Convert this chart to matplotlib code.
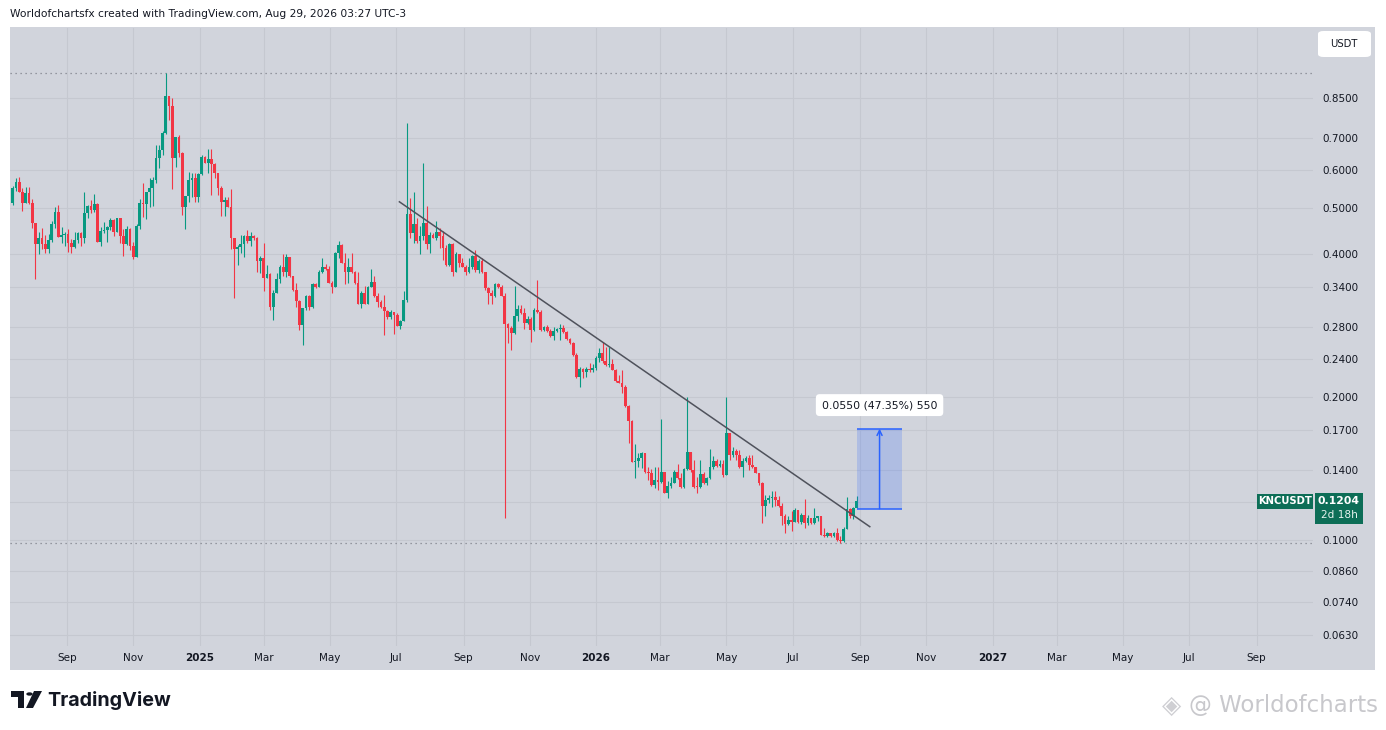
import matplotlib
matplotlib.use("Agg")
import matplotlib.pyplot as plt
import matplotlib.dates as mdates
from matplotlib.patches import Rectangle, FancyBboxPatch, Polygon, Circle
from matplotlib.ticker import NullLocator
import numpy as np
import pandas as pd

W, H = 1386, 730

# ---- data (3D candles KNCUSDT) ----
first_open = 0.510
close = [
    0.549, 0.567, 0.540, 0.512, 0.536, 0.510, 0.463, 0.418, 0.431, 0.418,
    0.408, 0.427, 0.462, 0.489, 0.434, 0.438, 0.439, 0.422, 0.412, 0.427,
    0.441, 0.432, 0.486, 0.504, 0.494, 0.509, 0.424, 0.447, 0.448, 0.454,
    0.470, 0.445, 0.475, 0.436, 0.419, 0.450, 0.414, 0.394, 0.457, 0.510,
    0.508, 0.538, 0.549, 0.571, 0.635, 0.661, 0.716, 0.858, 0.819, 0.637,
    0.703, 0.650, 0.501, 0.529, 0.571, 0.576, 0.527, 0.588, 0.638, 0.621,
    0.632, 0.617, 0.590, 0.550, 0.514, 0.519, 0.502, 0.431, 0.408, 0.412,
    0.419, 0.436, 0.425, 0.436, 0.431, 0.386, 0.392, 0.356, 0.362, 0.309,
    0.331, 0.354, 0.374, 0.366, 0.393, 0.358, 0.335, 0.318, 0.283, 0.307,
    0.326, 0.309, 0.345, 0.341, 0.366, 0.374, 0.371, 0.347, 0.341, 0.402,
    0.417, 0.383, 0.366, 0.374, 0.365, 0.346, 0.314, 0.331, 0.314, 0.341,
    0.349, 0.325, 0.317, 0.309, 0.303, 0.294, 0.302, 0.297, 0.282, 0.289,
    0.320, 0.485, 0.441, 0.462, 0.426, 0.436, 0.463, 0.418, 0.438, 0.432,
    0.443, 0.436, 0.410, 0.378, 0.419, 0.366, 0.399, 0.382, 0.375, 0.366,
    0.374, 0.395, 0.369, 0.385, 0.366, 0.338, 0.331, 0.325, 0.345, 0.340,
    0.326, 0.285, 0.2785, 0.2727, 0.2957, 0.3053, 0.300, 0.286, 0.292, 0.276,
    0.305, 0.302, 0.276, 0.280, 0.275, 0.268, 0.275, 0.277, 0.2785, 0.273,
    0.264, 0.259, 0.2448, 0.2197, 0.2283, 0.2257, 0.2283, 0.2276, 0.2295, 0.2409,
    0.2468, 0.2381, 0.2332, 0.2343, 0.2276, 0.2162, 0.2141, 0.2100, 0.1912, 0.1781,
    0.1460, 0.1467, 0.1488, 0.1525, 0.1391, 0.1384, 0.1304, 0.1336, 0.1325, 0.1386,
    0.1256, 0.1300, 0.1319, 0.1391, 0.1347, 0.1290, 0.1407, 0.1532, 0.1402, 0.1293,
    0.1290, 0.1375, 0.1315, 0.1347, 0.1421, 0.1467, 0.1430, 0.1444, 0.1369, 0.1675,
    0.1508, 0.1538, 0.1508, 0.1421, 0.1467, 0.1488, 0.1437, 0.1421, 0.1384, 0.1319,
    0.1180, 0.1213, 0.1221, 0.1230, 0.1213, 0.1180, 0.1124, 0.1078, 0.1101, 0.1089,
    0.1155, 0.1089, 0.1128, 0.1083, 0.1113, 0.1083, 0.1110, 0.1119, 0.1024, 0.1016,
    0.1032, 0.1016, 0.1032, 0.0999, 0.0994, 0.1053, 0.1161, 0.1124, 0.1165, 0.1204,
]
high = [
    0.555, 0.576, 0.579, 0.549, 0.552, 0.552, 0.520, 0.463, 0.445, 0.452,
    0.438, 0.440, 0.468, 0.501, 0.505, 0.454, 0.443, 0.450, 0.429, 0.443,
    0.443, 0.445, 0.538, 0.506, 0.519, 0.533, 0.510, 0.456, 0.467, 0.458,
    0.475, 0.472, 0.476, 0.476, 0.450, 0.457, 0.452, 0.424, 0.461, 0.520,
    0.562, 0.540, 0.577, 0.579, 0.677, 0.677, 0.724, 0.959, 0.858, 0.849,
    0.703, 0.711, 0.653, 0.529, 0.595, 0.590, 0.590, 0.592, 0.645, 0.642,
    0.664, 0.663, 0.621, 0.592, 0.555, 0.527, 0.527, 0.546, 0.431, 0.417,
    0.438, 0.438, 0.448, 0.445, 0.437, 0.434, 0.395, 0.422, 0.379, 0.364,
    0.335, 0.364, 0.379, 0.399, 0.399, 0.394, 0.359, 0.346, 0.320, 0.308,
    0.327, 0.328, 0.346, 0.347, 0.369, 0.392, 0.380, 0.377, 0.351, 0.404,
    0.426, 0.419, 0.402, 0.391, 0.402, 0.368, 0.366, 0.333, 0.342, 0.342,
    0.371, 0.358, 0.330, 0.320, 0.327, 0.304, 0.304, 0.302, 0.300, 0.290,
    0.333, 0.752, 0.523, 0.540, 0.475, 0.457, 0.621, 0.504, 0.445, 0.441,
    0.468, 0.452, 0.447, 0.417, 0.420, 0.420, 0.404, 0.399, 0.391, 0.379,
    0.391, 0.397, 0.406, 0.389, 0.391, 0.366, 0.341, 0.335, 0.346, 0.346,
    0.344, 0.331, 0.286, 0.281, 0.342, 0.312, 0.312, 0.307, 0.295, 0.294,
    0.307, 0.352, 0.304, 0.282, 0.283, 0.277, 0.280, 0.279, 0.285, 0.283,
    0.275, 0.266, 0.260, 0.2468, 0.2313, 0.2295, 0.2313, 0.2358, 0.2343, 0.2436,
    0.2528, 0.2610, 0.2548, 0.2540, 0.2397, 0.2283, 0.2222, 0.2276, 0.2117, 0.1921,
    0.1787, 0.1591, 0.1520, 0.1532, 0.1525, 0.1425, 0.1407, 0.1425, 0.1421, 0.1795,
    0.1391, 0.1331, 0.1358, 0.1402, 0.1444, 0.1380, 0.1414, 0.1995, 0.1532, 0.1472,
    0.1358, 0.1472, 0.1391, 0.1358, 0.1550, 0.1501, 0.1477, 0.1472, 0.1472, 0.1995,
    0.1675, 0.1570, 0.1550, 0.1545, 0.1484, 0.1501, 0.1508, 0.1508, 0.1425, 0.1384,
    0.1323, 0.1242, 0.1242, 0.1267, 0.1267, 0.1238, 0.1194, 0.1131, 0.1119, 0.1149,
    0.1165, 0.1137, 0.1137, 0.1218, 0.1128, 0.1113, 0.1165, 0.1124, 0.1119, 0.1057,
    0.1040, 0.1035, 0.1040, 0.1057, 0.1016, 0.1065, 0.1232, 0.1165, 0.1174, 0.1238,
]
low = [
    0.506, 0.542, 0.539, 0.492, 0.510, 0.509, 0.453, 0.354, 0.399, 0.408,
    0.402, 0.401, 0.424, 0.453, 0.433, 0.420, 0.414, 0.404, 0.401, 0.410,
    0.422, 0.415, 0.420, 0.475, 0.488, 0.490, 0.423, 0.414, 0.441, 0.424,
    0.448, 0.436, 0.443, 0.422, 0.395, 0.417, 0.407, 0.389, 0.394, 0.450,
    0.478, 0.472, 0.501, 0.504, 0.564, 0.605, 0.645, 0.714, 0.764, 0.546,
    0.609, 0.640, 0.482, 0.450, 0.514, 0.527, 0.514, 0.514, 0.585, 0.619,
    0.590, 0.531, 0.576, 0.531, 0.480, 0.480, 0.501, 0.408, 0.322, 0.379,
    0.401, 0.394, 0.420, 0.414, 0.427, 0.366, 0.364, 0.333, 0.355, 0.304,
    0.290, 0.330, 0.346, 0.358, 0.357, 0.357, 0.334, 0.309, 0.276, 0.257,
    0.304, 0.304, 0.308, 0.338, 0.341, 0.364, 0.369, 0.346, 0.331, 0.341,
    0.391, 0.382, 0.345, 0.346, 0.364, 0.345, 0.313, 0.308, 0.313, 0.313,
    0.340, 0.324, 0.309, 0.308, 0.270, 0.292, 0.292, 0.271, 0.281, 0.277,
    0.288, 0.317, 0.432, 0.422, 0.422, 0.399, 0.427, 0.408, 0.402, 0.431,
    0.427, 0.410, 0.388, 0.377, 0.377, 0.359, 0.365, 0.375, 0.374, 0.361,
    0.364, 0.372, 0.365, 0.364, 0.364, 0.335, 0.314, 0.313, 0.324, 0.338,
    0.325, 0.1112, 0.259, 0.251, 0.271, 0.288, 0.2985, 0.277, 0.285, 0.260,
    0.275, 0.300, 0.275, 0.275, 0.274, 0.267, 0.263, 0.273, 0.263, 0.272,
    0.263, 0.258, 0.244, 0.2187, 0.2100, 0.2187, 0.2197, 0.2257, 0.2257, 0.2276,
    0.2369, 0.2358, 0.2321, 0.2313, 0.2270, 0.2151, 0.2134, 0.2033, 0.1905, 0.1596,
    0.1455, 0.1347, 0.1425, 0.1414, 0.1384, 0.1336, 0.1300, 0.1283, 0.1273, 0.1315,
    0.1253, 0.1222, 0.1283, 0.1315, 0.1341, 0.1283, 0.1283, 0.1402, 0.1391, 0.1283,
    0.1256, 0.1283, 0.1310, 0.1304, 0.1341, 0.1407, 0.1425, 0.1425, 0.1358, 0.1369,
    0.1472, 0.1496, 0.1472, 0.1414, 0.1358, 0.1460, 0.1402, 0.1414, 0.1380, 0.1304,
    0.1085, 0.1119, 0.1195, 0.1174, 0.1180, 0.1174, 0.1074, 0.1032, 0.1074, 0.1044,
    0.1092, 0.1083, 0.1078, 0.1057, 0.1074, 0.1078, 0.1078, 0.1096, 0.1021, 0.1011,
    0.1011, 0.1011, 0.1011, 0.0994, 0.0984, 0.0991, 0.1053, 0.1110, 0.1106, 0.1165,
]
dates = pd.date_range("2024-07-13", periods=len(close), freq="3D")

trend_dates = ["2025-07-04", "2026-09-10"]
trend_prices = [0.514, 0.1065]

range_dates = ["2026-08-29", "2026-10-10"]
range_prices = [0.1162, 0.1712]
range_label = "0.0550 (47.35%) 550"

price_ticks = [0.0630, 0.0740, 0.0860, 0.1000, 0.1200, 0.1400, 0.1700, 0.2000,
               0.2400, 0.2800, 0.3400, 0.4000, 0.5000, 0.6000, 0.7000, 0.8500]
hidden_ticks = [0.1200]

month_ticks = ["2024-09-01", "2024-11-01", "2025-01-01", "2025-03-01", "2025-05-01",
               "2025-07-01", "2025-09-01", "2025-11-01", "2026-01-01", "2026-03-01",
               "2026-05-01", "2026-07-01", "2026-09-01", "2026-11-01", "2027-01-01",
               "2027-03-01", "2027-05-01", "2027-07-01", "2027-09-01"]
month_labels = ["Sep", "Nov", "2025", "Mar", "May", "Jul", "Sep", "Nov", "2026", "Mar",
                "May", "Jul", "Sep", "Nov", "2027", "Mar", "May", "Jul", "Sep"]

symbol = "KNCUSDT"
countdown = "2d 18h"
header = "Worldofchartsfx created with TradingView.com, Aug 29, 2026 03:27 UTC-3"

# ---- style ----
BG = "#d1d4dc"
GRID = "#c5c8d0"
GREEN = "#089981"
RED = "#f23645"
TXT = "#131722"
LABEL_GREEN = "#0d6e57"
BLUE = "#2962ff"


def fx(x):
    return x / W


def fy(y):
    return 1 - y / H


fig = plt.figure(figsize=(W / 100, H / 100), dpi=100)
fig.patch.set_facecolor("white")
fig.add_artist(Rectangle((fx(10), fy(670)), fx(1375) - fx(10), fy(27) - fy(670),
                         transform=fig.transFigure, facecolor=BG, edgecolor="none", zorder=0))

ax = fig.add_axes([fx(10), fy(646), fx(1313) - fx(10), fy(28) - fy(646)])
ax.set_facecolor("none")
ax.set_yscale("log")

x_ref = mdates.date2num(pd.Timestamp("2024-09-01"))
ax.set_xlim(x_ref - 52.47, x_ref + 1147.0)
ax.set_ylim(0.05974, 1.1932)

# candles
o = np.array([first_open] + close[:-1])
c = np.array(close)
hi = np.maximum(np.array(high), np.maximum(o, c))
lo = np.minimum(np.array(low), np.minimum(o, c))
x = mdates.date2num(dates)
cols = np.where(c >= o, GREEN, RED)
ax.vlines(x, lo, hi, colors=cols, linewidth=0.8, zorder=3)
body = np.maximum(np.abs(c - o), c * 0.005)
ax.bar(x, body, bottom=np.minimum(o, c), width=2.5, color=cols, linewidth=0, zorder=4)

# high / low dotted lines
for lvl in (hi.max(), lo.min()):
    ax.axhline(lvl, color="#7f828c", linestyle=(0, (1, 3)), linewidth=0.9, zorder=2)

# trend line
ax.plot(mdates.date2num(pd.to_datetime(trend_dates)), trend_prices,
        color="#4f525c", linewidth=1.1, zorder=5)

# price range measure
rx = mdates.date2num(pd.to_datetime(range_dates))
ax.add_patch(Rectangle((rx[0], range_prices[0]), rx[1] - rx[0], range_prices[1] - range_prices[0],
                       facecolor=BLUE, alpha=0.2, edgecolor="none", zorder=5))
ax.hlines(range_prices, rx[0], rx[1], colors=BLUE, linewidth=1.1, zorder=6)
xm = (rx[0] + rx[1]) / 2
ax.annotate("", xy=(xm, range_prices[1]), xytext=(xm, range_prices[0]),
            arrowprops=dict(arrowstyle="->", color=BLUE, lw=1.1, mutation_scale=9,
                            shrinkA=0, shrinkB=0), zorder=6)
ax.annotate(range_label, xy=(xm, range_prices[1]), xytext=(0, 17), textcoords="offset points",
            ha="center", va="center", fontsize=7.8, color=TXT, zorder=7,
            bbox=dict(boxstyle="round,pad=0.55,rounding_size=0.35", fc="white", ec="none"))

# axes / grid
ax.set_yticks(price_ticks)
ax.set_yticklabels(["" if p in hidden_ticks else f"{p:.4f}" for p in price_ticks])
ax.yaxis.set_minor_locator(NullLocator())
ax.yaxis.tick_right()
ax.set_xticks(mdates.date2num(pd.to_datetime(month_ticks)))
ax.set_xticklabels(month_labels)
ax.tick_params(axis="y", length=0, pad=7, labelsize=7.5, labelcolor=TXT)
ax.tick_params(axis="x", length=0, pad=5, labelsize=7.5, labelcolor=TXT)
for lab in ax.get_xticklabels():
    if lab.get_text().isdigit():
        lab.set_fontweight("bold")
ax.grid(True, color=GRID, linewidth=0.8)
ax.set_axisbelow(True)
for s in ax.spines.values():
    s.set_visible(False)

# last price labels
_, yd = ax.transData.transform((x[-1], c[-1]))
ly = H - yd
fig.add_artist(Rectangle((fx(1257), fy(ly + 7.5)), fx(1313) - fx(1257), 15 / H,
                         transform=fig.transFigure, facecolor=LABEL_GREEN, edgecolor="none", zorder=8))
fig.text(fx(1285), fy(ly), symbol, ha="center", va="center", fontsize=7.2,
         fontweight="bold", color="white", zorder=9)
fig.add_artist(Rectangle((fx(1315), fy(ly + 23)), fx(1363) - fx(1315), 31 / H,
                         transform=fig.transFigure, facecolor=LABEL_GREEN, edgecolor="none", zorder=8))
fig.text(fx(1339), fy(ly), f"{c[-1]:.4f}", ha="center", va="center", fontsize=7.8,
         fontweight="bold", color="white", zorder=9)
fig.text(fx(1339), fy(ly + 14), countdown, ha="center", va="center", fontsize=7.6,
         color="#e6f2ee", zorder=9)

# currency box
fig.add_artist(FancyBboxPatch((fx(1318), fy(57)), fx(1371) - fx(1318), fy(31) - fy(57),
                              boxstyle="round,pad=0,rounding_size=0.004",
                              transform=fig.transFigure, facecolor="white", edgecolor="none", zorder=8))
fig.text(fx(1344), fy(44), "USDT", ha="center", va="center", fontsize=7.2, color=TXT, zorder=9)

# header
fig.text(fx(10), fy(14), header, ha="left", va="center", fontsize=7.7, color=TXT)

# TradingView logo
logo_t = [(11, 691), (24, 691), (24, 708), (18, 708), (18, 697), (11, 697)]
logo_s = [(34, 691), (42, 691), (33, 708), (26, 708)]
for pts in (logo_t, logo_s):
    fig.add_artist(Polygon([(fx(a), fy(b)) for a, b in pts], closed=True,
                           transform=fig.transFigure, facecolor=TXT, edgecolor="none"))
fig.add_artist(Circle((fx(29.5), fy(694)), 3.2 / W, transform=fig.transFigure,
                      facecolor=TXT, edgecolor="none"))
fig.text(fx(47), fy(700), "TradingView", ha="left", va="center", fontsize=14.2,
         fontweight="bold", family="Inter", color=TXT)

# watermark
fig.text(fx(1172), fy(706), "\u25c8", ha="center", va="center", fontsize=18, color="#cfcfd3")
fig.text(fx(1378), fy(706), "@ Worldofcharts", ha="right", va="center", fontsize=16.5,
         color="#c8c8cc")

fig.savefig("out.png", dpi=100, facecolor="white")
